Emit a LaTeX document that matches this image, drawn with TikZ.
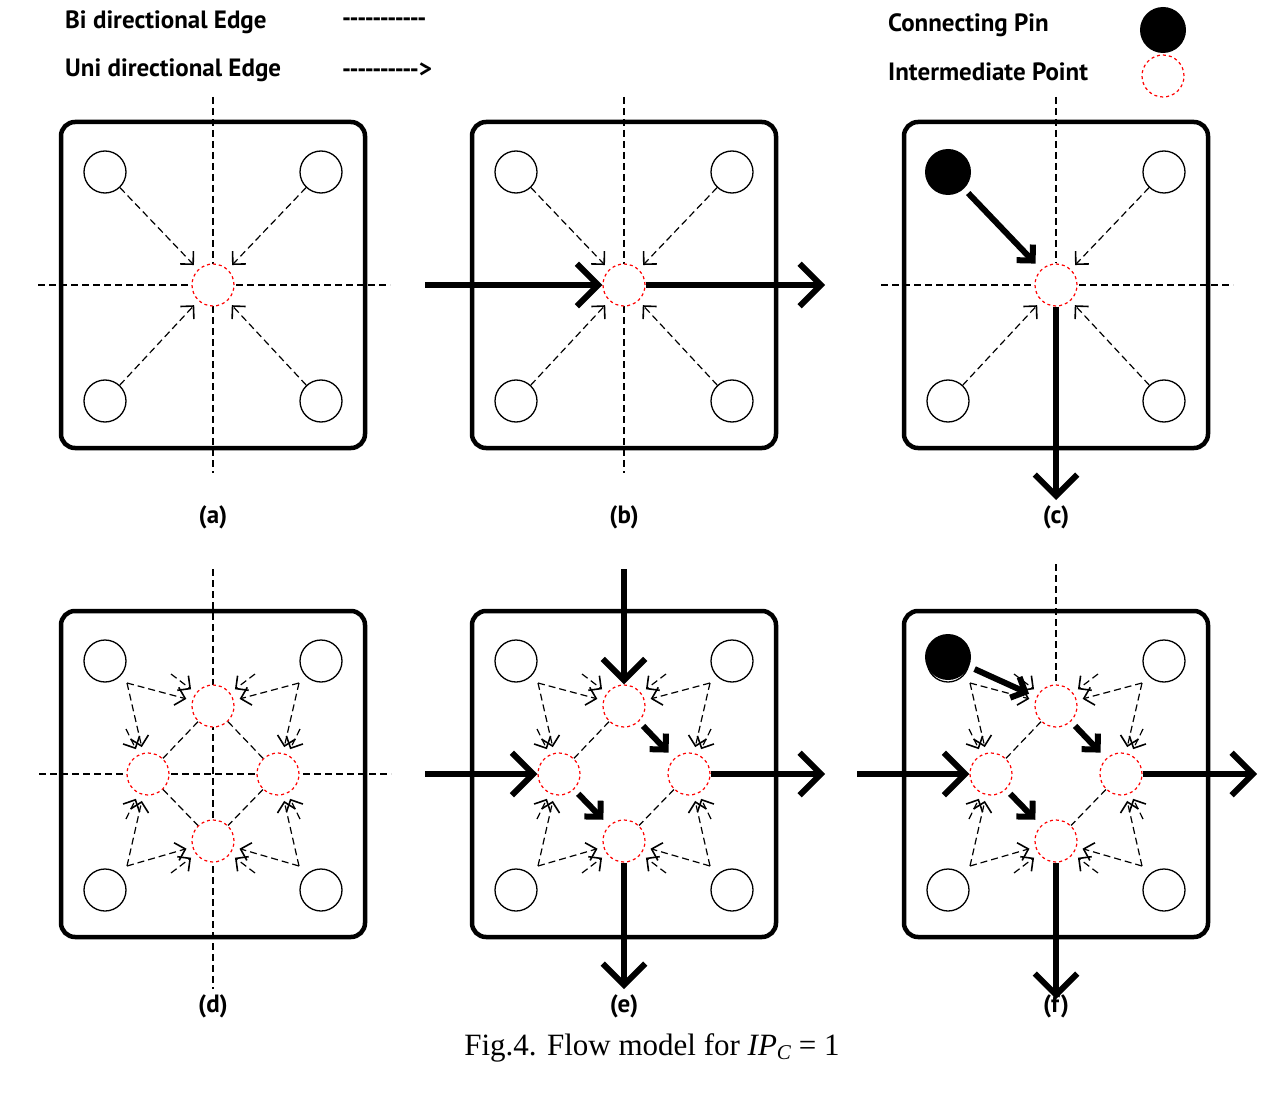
\documentclass[tikz,border=0pt]{standalone}
\usepackage{fontspec}
\setmainfont{Liberation Serif}
\newfontfamily\labfont{PT Sans}
\usetikzlibrary{arrows.meta,backgrounds}

\tikzset{
    box/.style={line width=4.5pt, rounded corners=14pt},
    pad/.style={circle, draw, line width=1.3pt, minimum size=42pt, inner sep=0pt},
    ip/.style={circle, draw=red, dashed, line width=1.2pt, fill=white, minimum size=42pt, inner sep=0pt},
    pin/.style={circle, fill=black, minimum size=46pt, inner sep=0pt},
    bi/.style={dashed, line width=1.2pt, dash pattern=on 7pt off 4pt},
    uni/.style={bi, -{Straight Barb[angle=90:13pt, line width=1.6pt]}, shorten >=6pt},
    flow/.style={line width=6pt, -{Straight Barb[angle=90:30pt, line width=6pt]}},
    hop/.style={line width=6pt, -{Straight Barb[angle=90:16pt, line width=6pt]}, shorten >=8pt, shorten <=6pt},
    lab/.style={font=\labfont\bfseries\fontsize{25}{28}\selectfont, inner sep=0pt},
}

\begin{document}
\begin{tikzpicture}[x=1pt, y=-1pt]
    \useasboundingbox (0,0) rectangle (1267,1110);

    % legend
    \node[lab, anchor=west] (bitext) at (65,22) {Bi directional Edge};
    \node[lab, anchor=west] (unitext) at (65,70) {Uni directional Edge};
    \node[lab, anchor=west] (bidash) at (342,22) {-----------};
    \node[lab, anchor=west] (unidash) at (342,70) {---------->};
    \node[lab, anchor=west] (pintext) at (888,25) {Connecting Pin};
    \node[lab, anchor=west] (iptext) at (888,72) {Intermediate Point};
    \node[pin] (legpin) at (1163,30) {};
    \node[ip] (legip) at (1163,76) {};

    % boxes, pads and captions
    \foreach \n/\cx/\cy in {a/213/285, b/624/285, c/1056/285, d/213/774, e/624/774, f/1056/774} {
        \draw[box] (\cx-152,\cy-163) rectangle (\cx+152,\cy+163);
        \node[pad] (\n1) at (\cx-108,\cy-113) {};
        \node[pad] (\n2) at (\cx+108,\cy-113) {};
        \node[pad] (\n3) at (\cx-108,\cy+116) {};
        \node[pad] (\n4) at (\cx+108,\cy+116) {};
        \node[lab] (\n cap) at (\cx,\cy+232) {(\n)};
    }

    % one intermediate point
    \foreach \n/\cx/\cy in {a/213/285, b/624/285, c/1056/285} {
        \node[ip] (\n0) at (\cx,\cy) {};
        \coordinate (\n N) at (\cx,\cy-188);
        \coordinate (\n S) at (\cx,\cy+188);
        \coordinate (\n W) at (\cx-175,\cy);
        \coordinate (\n E) at (\cx+177,\cy);
    }
    \foreach \n in {a, b} {
        \foreach \k in {1, ..., 4}
            \draw[uni] (\n\k) -- (\n0);
    }
    \foreach \k in {2, 3, 4}
        \draw[uni] (c\k) -- (c0);
    \begin{scope}[on background layer]
        \draw[bi] (aN) -- (aS);
        \draw[bi] (aW) -- (aE);
        \draw[bi] (bN) -- (bS);
        \draw[bi] (cW) -- (cE);
        \draw[bi] (cN) -- (c0);
    \end{scope}
    \draw[flow] ([xshift=-24pt]bW) -- (b0);
    \draw[flow] (b0) -- ([xshift=24pt]bE);
    \node[pin] (cpin) at (948,172) {};
    \draw[hop] (cpin) -- (c0);
    \draw[flow] (c0) -- ([yshift=-27pt]cS);

    % four intermediate points
    \foreach \n/\cx/\cy in {d/213/774, e/624/774, f/1056/774} {
        \node[ip] (\n t) at (\cx,\cy-68) {};
        \node[ip] (\n l) at (\cx-65,\cy) {};
        \node[ip] (\n r) at (\cx+65,\cy) {};
        \node[ip] (\n b) at (\cx,\cy+67) {};
        \coordinate (\n v1) at (\cx-86,\cy-91);
        \coordinate (\n v2) at (\cx+86,\cy-91);
        \coordinate (\n v3) at (\cx-86,\cy+92);
        \coordinate (\n v4) at (\cx+86,\cy+92);
        \coordinate (\n N) at (\cx,\cy-210);
        \coordinate (\n S) at (\cx,\cy+215);
        \coordinate (\n W) at (\cx-199,\cy);
        \coordinate (\n E) at (\cx+201,\cy);
        \draw[uni] (\n v1) -- (\n t);
        \draw[uni] (\n v1) -- (\n l);
        \draw[uni] (\n v2) -- (\n t);
        \draw[uni] (\n v2) -- (\n r);
        \draw[uni] (\n v3) -- (\n b);
        \draw[uni] (\n v3) -- (\n l);
        \draw[uni] (\n v4) -- (\n b);
        \draw[uni] (\n v4) -- (\n r);
        \draw[uni] ([shift={(-42,-32)}]\n t.center) -- (\n t);
        \draw[uni] ([shift={(42,-32)}]\n t.center) -- (\n t);
        \draw[uni] ([shift={(-42,32)}]\n b.center) -- (\n b);
        \draw[uni] ([shift={(42,32)}]\n b.center) -- (\n b);
        \draw[uni] ([shift={(-22,-45)}]\n l.center) -- (\n l);
        \draw[uni] ([shift={(-22,45)}]\n l.center) -- (\n l);
        \draw[uni] ([shift={(22,-45)}]\n r.center) -- (\n r);
        \draw[uni] ([shift={(22,45)}]\n r.center) -- (\n r);
        \draw[bi] (\n t) -- (\n l);
        \draw[bi] (\n r) -- (\n b);
    }
    \draw[bi] (dt) -- (dr);
    \draw[bi] (dl) -- (db);
    \begin{scope}[on background layer]
        \draw[bi] ([yshift=-5pt]dN) -- (dS);
        \draw[bi] ([xshift=25pt]dW) -- ([xshift=-23pt]dE);
        \draw[bi] (fN) -- (ft);
    \end{scope}

    % flows
    \draw[flow] ([yshift=-5pt]eN) -- (et);
    \draw[flow] (eW) -- (el);
    \draw[flow] (er) -- (eE);
    \draw[flow] (eb) -- (eS);
    \draw[hop] (et) -- (er);
    \draw[hop] (el) -- (eb);
    \node[pin] (fpin) at (948,657) {};
    \draw[hop] (fpin) -- (ft);
    \draw[hop] (ft) -- (fr);
    \draw[hop] (fl) -- (fb);
    \draw[flow] (fW) -- (fl);
    \draw[flow] (fr) -- (fE);
    \draw[flow] (fb) -- ([yshift=-10pt]fS);

    % caption
    \node[font=\fontsize{31}{34}\selectfont] (title) at (652,1048)
        {Fig.4. Flow model for \textit{IP}\raisebox{-0.3ex}{\fontsize{21}{21}\selectfont\textit{C}} = 1};
\end{tikzpicture}
\end{document}
